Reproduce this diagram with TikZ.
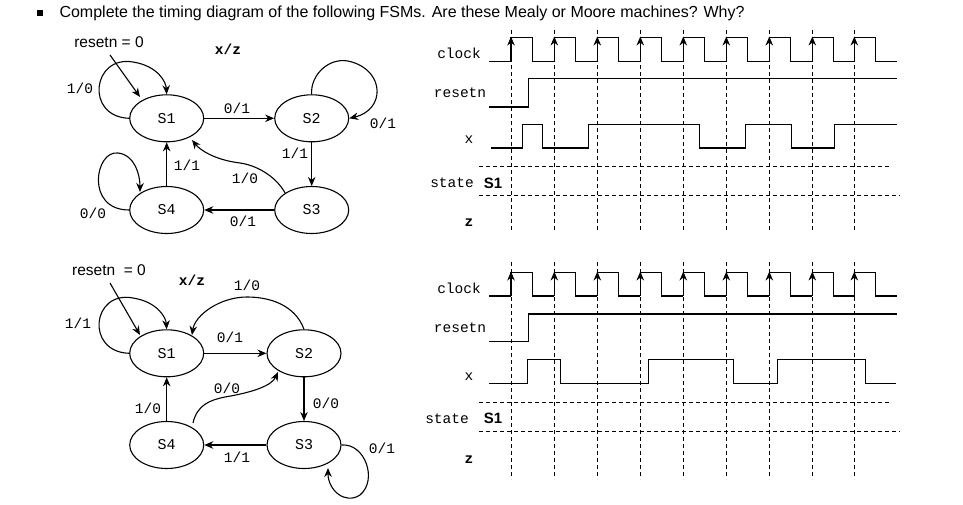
\documentclass[tikz,border=0pt]{standalone}
\usepackage{fontspec}
\setmainfont{Liberation Sans}
\newfontfamily\monof{Liberation Mono}
\usetikzlibrary{shapes.geometric,arrows.meta}
\begin{document}
\begin{tikzpicture}[x=1pt,y=-1pt,line width=1.1pt,
  st/.style={draw,ellipse,minimum width=74pt,minimum height=47pt,inner sep=0pt,font=\monof\fontsize{15}{15}\selectfont},
  lab/.style={font=\monof\fontsize{14.5}{14.5}\selectfont,inner sep=0pt},
  sig/.style={font=\monof\fontsize{14.5}{14.5}\selectfont,inner sep=0pt},
  ar/.style={-{Stealth[length=9pt,width=7.5pt]}},
  wave/.style={line join=miter},
  grid/.style={dashed,line width=1pt,dash pattern=on 4pt off 3pt}]
\useasboundingbox (0,0) rectangle (963,505);
% title
\fill (37,10) rectangle (43,16);
\node[anchor=west,inner sep=0pt,font=\fontsize{16}{16}\selectfont] (title) at (59,13) {Complete the timing diagram of the following FSMs. Are these Mealy or Moore machines? Why?};
% ---------- top FSM
\node[st] (a1) at (166.7,118.3) {S1};
\node[st] (a2) at (311.7,118.3) {S2};
\node[st] (a4) at (166.7,210) {S4};
\node[st] (a3) at (311.7,210) {S3};
\node[inner sep=0pt,font=\fontsize{15.5}{15.5}\selectfont] (ar0) at (109,42) {resetn = 0};
\coordinate (ar0s) at (110,55);
\node[lab,font=\monof\bfseries\fontsize{14.5}{14.5}\selectfont] (axz) at (228,49) {x/z};
\draw[ar] (ar0s) -- (140,97);
\draw[ar] (a1.west) .. controls (85,117) and (92,55) .. (133,62) .. controls (158,66) and (166,82) .. (a1.north);
\node[lab] at (80,88) {1/0};
\draw[ar] (a1) -- (a2);
\node[lab] at (237,108) {0/1};
\draw[ar] (a2.north) .. controls (310,75) and (330,55) .. (352,62) .. controls (385,72) and (385,110) .. (a2.east);
\node[lab] at (383,123) {0/1};
\draw[ar] (a2) -- (a3);
\node[lab] at (295,153) {1/1};
\draw[ar] (a3.north west) .. controls (275,175) and (255,165) .. (240,163) .. controls (215,160) and (200,150) .. (192,140);
\node[lab] at (245,178) {1/0};
\draw[ar] (a3) -- (a4);
\node[lab] at (243,221) {0/1};
\draw[ar] (a4) -- (a1);
\node[lab] at (187,165) {1/1};
\draw[ar] (a4.west) .. controls (85,210) and (95,150) .. (118,153) .. controls (135,155) and (140,175) .. (140,192);
\node[lab] at (93,213) {0/0};
% ---------- bottom FSM
\node[st] (b1) at (166.7,353.3) {S1};
\node[st] (b2) at (304,353.3) {S2};
\node[st] (b4) at (166.7,445) {S4};
\node[st] (b3) at (304,445) {S3};
\node[inner sep=0pt,font=\fontsize{15.5}{15.5}\selectfont] (br0) at (109,270) {resetn\ \ = 0};
\coordinate (br0s) at (110,283);
\node[lab,font=\monof\bfseries\fontsize{14.5}{14.5}\selectfont] (bxz) at (192,280) {x/z};
\draw[ar] (br0s) -- (140,335);
\draw[ar] (b1.west) .. controls (85,352) and (92,290) .. (133,298) .. controls (158,302) and (166,318) .. (b1.north);
\node[lab] at (78,323) {1/1};
\draw[ar] (b1) -- (b2);
\node[lab] at (230,337) {0/1};
\draw[ar] (b2.north) .. controls (295,305) and (270,297) .. (247,297) .. controls (220,297) and (195,315) .. (192,335);
\node[lab] at (247,285) {1/0};
\draw[ar] (b2) -- (b3);
\node[lab] at (326,403) {0/0};
\draw[ar] (193,423) .. controls (197,405) and (210,400) .. (225,397) .. controls (255,392) and (272,385) .. (278,372);
\node[lab] at (227,388) {0/0};
\draw[ar] (b3) -- (b4);
\node[lab] at (237,457) {1/1};
\draw[ar] (b4) -- (b1);
\node[lab] at (148,408) {1/0};
\draw[ar] (b3.east) .. controls (365,443) and (378,480) .. (360,495) .. controls (345,505) and (328,490) .. (328,468);
\node[lab] at (382,448) {0/1};
% ---------- top timing
\foreach \e in {511,554.3,597.3,640.3,683.3,726.3,769.3,812.3,854.3}{
  \draw[grid] (\e,30) -- (\e,232);
  \draw[wave] (\e,61.3) -- (\e,37.3) -- (\e+21.5,37.3) -- (\e+21.5,61.3) -- (\e+43,61.3);
  \draw[ar] (\e,61.3) -- (\e,36.5);
}
\draw[wave] (489,61.3) -- (511,61.3);
\draw[wave] (489,107) -- (528.3,107) -- (528.3,78.3) -- (897,78.3);
\draw[wave] (491,148) -- (522.3,148) -- (522.3,124.3) -- (542.7,124.3) -- (542.7,148) -- (588.7,148) -- (588.7,124.3) -- (699.3,124.3) -- (699.3,148) -- (745.3,148) -- (745.3,124.3) -- (791.3,124.3) -- (791.3,148) -- (834.3,148) -- (834.3,124.3) -- (897,124.3);
\draw[grid] (479,167) -- (890,167);
\draw[grid] (479,196) -- (900,196);
\node[sig] at (459,53) {clock};
\node[sig] at (460,93) {resetn};
\node[sig] at (469,140) {x};
\node[sig] at (452,183) {state};
\node[inner sep=0pt,font=\bfseries\fontsize{15}{15}\selectfont] at (493,183) {S1};
\node[sig,font=\monof\bfseries\fontsize{14.5}{14.5}\selectfont] at (469,223) {z};
% ---------- bottom timing
\foreach \e in {511,554.3,597.3,640.3,683.3,726.3,769.3,812.3,854.3}{
  \draw[grid] (\e,262) -- (\e,479);
  \draw[wave] (\e,296) -- (\e,272.3) -- (\e+21.5,272.3) -- (\e+21.5,296) -- (\e+43,296);
  \draw[ar] (\e,296) -- (\e,271.5);
}
\draw[wave] (489,296) -- (511,296);
\draw[wave] (489,341.7) -- (528.3,341.7) -- (528.3,314) -- (897,314);
\draw[wave] (489.3,383.3) -- (527.3,383.3) -- (527.3,359.3) -- (560.3,359.3) -- (560.3,383.3) -- (648.3,383.3) -- (648.3,359.3) -- (733.3,359.3) -- (733.3,383.3) -- (777.3,383.3) -- (777.3,359.3) -- (865.7,359.3) -- (865.7,383.3) -- (895.7,383.3);
\draw[grid] (479,402.3) -- (890,402.3);
\draw[grid] (479,431.7) -- (900,431.7);
\node[sig] at (459,288.7) {clock};
\node[sig] at (460,327.7) {resetn};
\node[sig] at (469,376.7) {x};
\node[sig] at (447,418.3) {state};
\node[inner sep=0pt,font=\bfseries\fontsize{15}{15}\selectfont] at (493,418.3) {S1};
\node[sig,font=\monof\bfseries\fontsize{14.5}{14.5}\selectfont] at (469,460) {z};
\end{tikzpicture}
\end{document}
